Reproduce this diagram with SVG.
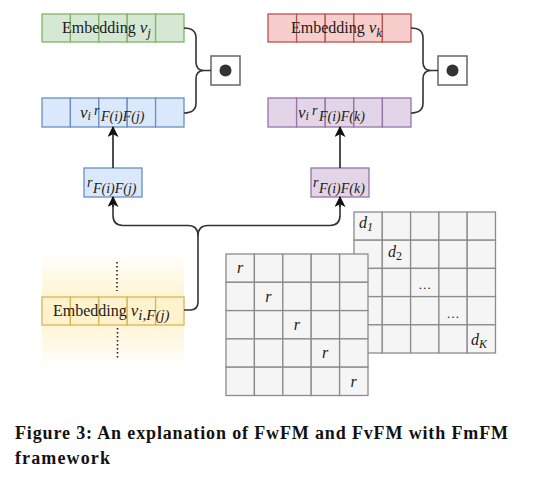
<svg xmlns="http://www.w3.org/2000/svg" width="538" height="500" viewBox="0 0 538 500">
<style>
  text { font-family: "Liberation Serif", "Times New Roman", serif; fill: #1a1a1a; }
  .it { font-style: italic; }
  .cell { stroke-width: 1.3; }
  .green { fill: #d5e8d4; stroke: #82b366; }
  .red { fill: #f8cecc; stroke: #b85450; }
  .blue { fill: #dae8fc; stroke: #6c8ebf; }
  .purple { fill: #e1d5e7; stroke: #9673a6; }
  .yellow { fill: #fff2cc; stroke: #d6b656; }
  .mat { fill: #f5f5f5; stroke: #8c8c8c; stroke-width: 1.3; }
  .op { fill: #ffffff; stroke: #666666; stroke-width: 1.5; }
  .wire { fill: none; stroke: #333333; stroke-width: 1.6; }
  .arrow { fill: none; stroke: #222222; stroke-width: 1.6; marker-end: url(#ah); }
  .emb { font-size: 16px; }
  .cap { font-family: "Liberation Serif", "Times New Roman", serif; font-weight: bold; font-size: 18px; fill: #111; }
</style>
<defs>
  <marker id="ah" viewBox="0 0 10 10" refX="9" refY="5" markerWidth="11" markerHeight="11" markerUnits="userSpaceOnUse" orient="auto">
    <path d="M0,0 L10,5 L0,10 L2.5,5 z" fill="#111"/>
  </marker>
  <linearGradient id="glow" x1="0" y1="0" x2="0" y2="1">
    <stop offset="0" stop-color="#fff2cc" stop-opacity="0"/>
    <stop offset="0.45" stop-color="#fff2cc" stop-opacity="1"/>
    <stop offset="0.55" stop-color="#fff2cc" stop-opacity="1"/>
    <stop offset="1" stop-color="#fff2cc" stop-opacity="0"/>
  </linearGradient>
</defs>
<rect width="538" height="500" fill="#ffffff"/>

<!-- glow behind yellow embedding -->
<rect x="42" y="252" width="142" height="116" fill="url(#glow)"/>

<g id="emb-vj">
  <rect class="cell green" x="42" y="14" width="28.4" height="28"/>
  <rect class="cell green" x="70.4" y="14" width="28.4" height="28"/>
  <rect class="cell green" x="98.8" y="14" width="28.4" height="28"/>
  <rect class="cell green" x="127.2" y="14" width="28.4" height="28"/>
  <rect class="cell green" x="155.6" y="14" width="28.4" height="28"/>
  <text class="emb" x="62" y="33">Embedding <tspan class="it" font-size="17">v</tspan><tspan class="it" font-size="13" dy="4">j</tspan></text>
</g>

<g id="emb-vk">
  <rect class="cell red" x="268" y="14" width="28.6" height="28"/>
  <rect class="cell red" x="296.6" y="14" width="28.6" height="28"/>
  <rect class="cell red" x="325.2" y="14" width="28.6" height="28"/>
  <rect class="cell red" x="353.8" y="14" width="28.6" height="28"/>
  <rect class="cell red" x="382.4" y="14" width="28.6" height="28"/>
  <text class="emb" x="291" y="33">Embedding <tspan class="it" font-size="17">v</tspan><tspan class="it" font-size="13" dy="4">k</tspan></text>
</g>

<g id="vi-rj">
  <rect class="cell blue" x="42" y="98" width="28.4" height="29"/>
  <rect class="cell blue" x="70.4" y="98" width="28.4" height="29"/>
  <rect class="cell blue" x="98.8" y="98" width="28.4" height="29"/>
  <rect class="cell blue" x="127.2" y="98" width="28.4" height="29"/>
  <rect class="cell blue" x="155.6" y="98" width="28.4" height="29"/>
  <text x="80" y="118"><tspan class="it" font-size="17">v</tspan><tspan class="it" font-size="12" dy="2">i</tspan><tspan class="it" font-size="14" x="94" y="115">r</tspan><tspan class="it" font-size="14" x="101" y="121">F(i)F(j)</tspan></text>
</g>

<g id="vi-rk">
  <rect class="cell purple" x="268" y="98" width="28.6" height="29"/>
  <rect class="cell purple" x="296.6" y="98" width="28.6" height="29"/>
  <rect class="cell purple" x="325.2" y="98" width="28.6" height="29"/>
  <rect class="cell purple" x="353.8" y="98" width="28.6" height="29"/>
  <rect class="cell purple" x="382.4" y="98" width="28.6" height="29"/>
  <text x="298" y="118"><tspan class="it" font-size="17">v</tspan><tspan class="it" font-size="12" dy="2">i</tspan><tspan class="it" font-size="14" x="312" y="115">r</tspan><tspan class="it" font-size="14" x="319" y="121">F(i)F(k)</tspan></text>
</g>

<g id="dot-left">
  <rect class="op" x="211" y="56" width="29" height="29"/>
  <circle cx="225.5" cy="70.5" r="6" fill="#333333"/>
</g>

<g id="dot-right">
  <rect class="op" x="438" y="56" width="29" height="29"/>
  <circle cx="452.5" cy="70.5" r="6" fill="#333333"/>
</g>

<g id="r-fj">
  <rect class="cell blue" x="84" y="168" width="58" height="29"/>
  <text x="87" y="187"><tspan class="it" font-size="14">r</tspan><tspan class="it" font-size="14" x="93" y="193">F(i)F(j)</tspan></text>
</g>

<g id="r-fk">
  <rect class="cell purple" x="311" y="168" width="58" height="29"/>
  <text x="313" y="187"><tspan class="it" font-size="14">r</tspan><tspan class="it" font-size="14" x="319" y="193">F(i)F(k)</tspan></text>
</g>

<g id="emb-vif">
  <rect class="cell yellow" x="42" y="297" width="28.4" height="28"/>
  <rect class="cell yellow" x="70.4" y="297" width="28.4" height="28"/>
  <rect class="cell yellow" x="98.8" y="297" width="28.4" height="28"/>
  <rect class="cell yellow" x="127.2" y="297" width="28.4" height="28"/>
  <rect class="cell yellow" x="155.6" y="297" width="28.4" height="28"/>
  <text class="emb" x="53" y="316">Embedding <tspan class="it" font-size="17">v</tspan><tspan class="it" font-size="15" dy="4">i,F(j)</tspan></text>
  <line x1="117" y1="262" x2="117" y2="291" stroke="#222" stroke-width="1.6" stroke-dasharray="1.4 2.6"/>
  <line x1="117.5" y1="328" x2="117.5" y2="358" stroke="#222" stroke-width="1.6" stroke-dasharray="1.4 2.6"/>
</g>

<g id="matrix-d">
  <rect class="mat" x="354" y="212" width="28.3" height="28.2"/>
  <rect class="mat" x="382.3" y="212" width="28.3" height="28.2"/>
  <rect class="mat" x="410.6" y="212" width="28.3" height="28.2"/>
  <rect class="mat" x="438.9" y="212" width="28.3" height="28.2"/>
  <rect class="mat" x="467.2" y="212" width="28.3" height="28.2"/>
  <rect class="mat" x="354" y="240.2" width="28.3" height="28.2"/>
  <rect class="mat" x="382.3" y="240.2" width="28.3" height="28.2"/>
  <rect class="mat" x="410.6" y="240.2" width="28.3" height="28.2"/>
  <rect class="mat" x="438.9" y="240.2" width="28.3" height="28.2"/>
  <rect class="mat" x="467.2" y="240.2" width="28.3" height="28.2"/>
  <rect class="mat" x="354" y="268.4" width="28.3" height="28.2"/>
  <rect class="mat" x="382.3" y="268.4" width="28.3" height="28.2"/>
  <rect class="mat" x="410.6" y="268.4" width="28.3" height="28.2"/>
  <rect class="mat" x="438.9" y="268.4" width="28.3" height="28.2"/>
  <rect class="mat" x="467.2" y="268.4" width="28.3" height="28.2"/>
  <rect class="mat" x="354" y="296.6" width="28.3" height="28.2"/>
  <rect class="mat" x="382.3" y="296.6" width="28.3" height="28.2"/>
  <rect class="mat" x="410.6" y="296.6" width="28.3" height="28.2"/>
  <rect class="mat" x="438.9" y="296.6" width="28.3" height="28.2"/>
  <rect class="mat" x="467.2" y="296.6" width="28.3" height="28.2"/>
  <rect class="mat" x="354" y="324.8" width="28.3" height="28.2"/>
  <rect class="mat" x="382.3" y="324.8" width="28.3" height="28.2"/>
  <rect class="mat" x="410.6" y="324.8" width="28.3" height="28.2"/>
  <rect class="mat" x="438.9" y="324.8" width="28.3" height="28.2"/>
  <rect class="mat" x="467.2" y="324.8" width="28.3" height="28.2"/>
  <text x="359" y="228"><tspan class="it" font-size="16">d</tspan><tspan class="it" font-size="12" dy="3">1</tspan></text>
  <text x="388" y="257"><tspan class="it" font-size="16">d</tspan><tspan font-size="12" dy="3">2</tspan></text>
  <text x="424.8" y="289" font-size="13" text-anchor="middle">…</text>
  <text x="453" y="318" font-size="13" text-anchor="middle">…</text>
  <text x="471" y="345"><tspan class="it" font-size="16">d</tspan><tspan class="it" font-size="12" dy="3">K</tspan></text>
</g>

<g id="matrix-r">
  <rect class="mat" x="226" y="254" width="28.4" height="28.3"/>
  <rect class="mat" x="254.4" y="254" width="28.4" height="28.3"/>
  <rect class="mat" x="282.8" y="254" width="28.4" height="28.3"/>
  <rect class="mat" x="311.2" y="254" width="28.4" height="28.3"/>
  <rect class="mat" x="339.6" y="254" width="28.4" height="28.3"/>
  <rect class="mat" x="226" y="282.3" width="28.4" height="28.3"/>
  <rect class="mat" x="254.4" y="282.3" width="28.4" height="28.3"/>
  <rect class="mat" x="282.8" y="282.3" width="28.4" height="28.3"/>
  <rect class="mat" x="311.2" y="282.3" width="28.4" height="28.3"/>
  <rect class="mat" x="339.6" y="282.3" width="28.4" height="28.3"/>
  <rect class="mat" x="226" y="310.6" width="28.4" height="28.3"/>
  <rect class="mat" x="254.4" y="310.6" width="28.4" height="28.3"/>
  <rect class="mat" x="282.8" y="310.6" width="28.4" height="28.3"/>
  <rect class="mat" x="311.2" y="310.6" width="28.4" height="28.3"/>
  <rect class="mat" x="339.6" y="310.6" width="28.4" height="28.3"/>
  <rect class="mat" x="226" y="338.9" width="28.4" height="28.3"/>
  <rect class="mat" x="254.4" y="338.9" width="28.4" height="28.3"/>
  <rect class="mat" x="282.8" y="338.9" width="28.4" height="28.3"/>
  <rect class="mat" x="311.2" y="338.9" width="28.4" height="28.3"/>
  <rect class="mat" x="339.6" y="338.9" width="28.4" height="28.3"/>
  <rect class="mat" x="226" y="367.2" width="28.4" height="28.3"/>
  <rect class="mat" x="254.4" y="367.2" width="28.4" height="28.3"/>
  <rect class="mat" x="282.8" y="367.2" width="28.4" height="28.3"/>
  <rect class="mat" x="311.2" y="367.2" width="28.4" height="28.3"/>
  <rect class="mat" x="339.6" y="367.2" width="28.4" height="28.3"/>
  <text class="it" font-size="16" text-anchor="middle" x="240" y="273">r</text>
  <text class="it" font-size="16" text-anchor="middle" x="268.4" y="302">r</text>
  <text class="it" font-size="16" text-anchor="middle" x="296.8" y="330">r</text>
  <text class="it" font-size="16" text-anchor="middle" x="325.2" y="358">r</text>
  <text class="it" font-size="16" text-anchor="middle" x="353.6" y="387">r</text>
</g>

<g id="connectors">
  <path class="wire" d="M184,28 Q196,28 196,38 V62 Q196,70.5 204,70.5 H211 M204,70.5 Q196,70.5 196,79 V103 Q196,113 184,113"/>
  <path class="wire" d="M411,28 Q423,28 423,38 V62 Q423,70.5 431,70.5 H438 M431,70.5 Q423,70.5 423,79 V103 Q423,113 411,113"/>
  <path class="arrow" d="M113,168 V127"/>
  <path class="arrow" d="M340,168 V127"/>
  <path class="wire" d="M184,310 H190 Q198,310 198,302 V236 Q198,225.5 188,225.5 H123 Q113,225.5 113,215 V205"/>
  <path class="wire" d="M198,236 Q198,225.5 208,225.5 H330 Q340,225.5 340,215 V205"/>
  <path class="arrow" d="M113,207 V197"/>
  <path class="arrow" d="M340,207 V197"/>
</g>

<text class="cap" x="15" y="439" textLength="493" lengthAdjust="spacing">Figure 3: An explanation of FwFM and FvFM with FmFM</text>
<text class="cap" x="15" y="464" textLength="95" lengthAdjust="spacing">framework</text>
</svg>
